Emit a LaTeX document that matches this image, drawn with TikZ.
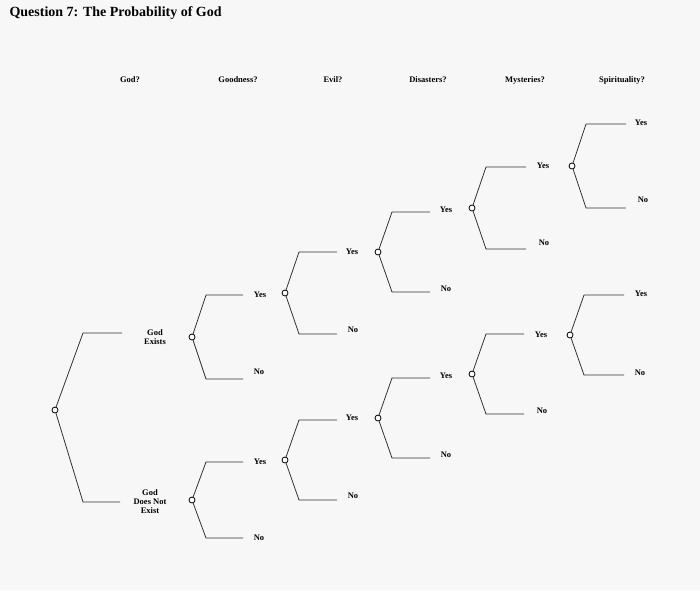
\documentclass[tikz,border=0pt]{standalone}
\usepackage{fontspec}
\setmainfont{Liberation Serif}
\tikzset{
  bp/.style={circle,draw,thick,inner sep=0pt,minimum size=6pt,fill=white},
  lab/.style={font=\bfseries\fontsize{8.5}{9}\selectfont,inner sep=1pt,align=center},
  hdr/.style={font=\bfseries\fontsize{8.5}{9}\selectfont},
  ln/.style={thick,black!80}
}
% #1 name, #2 cx, #3 cy, #4 dy, #5 line end x
\newcommand\brk[5]{%
  \coordinate (#1t) at (#2+14,#3-#4);
  \coordinate (#1b) at (#2+14,#3+#4);
  \coordinate (#1te) at (#5,#3-#4);
  \coordinate (#1be) at (#5,#3+#4);
  \draw[ln] (#1) -- (#1t) -- (#1te);
  \draw[ln] (#1) -- (#1b) -- (#1be);
}
\begin{document}
\begin{tikzpicture}[x=1pt,y=-1pt]
\fill[gray!6] (0,0) rectangle (700,590);
\useasboundingbox (0,0) rectangle (700,590);
\node[anchor=west,font=\bfseries\fontsize{14}{16}\selectfont] (title) at (6,13) {Question 7: The Probability of God};
\node[hdr] (h1) at (130,80) {God?};
\node[hdr] (h2) at (238,80) {Goodness?};
\node[hdr] (h3) at (333,80) {Evil?};
\node[hdr] (h4) at (428,80) {Disasters?};
\node[hdr] (h5) at (525,80) {Mysteries?};
\node[hdr] (h6) at (622,80) {Spirituality?};
% root
\node[bp] (r) at (55,410) {};
\coordinate (rt) at (83,333); \coordinate (rte) at (122,333);
\coordinate (rb) at (83,502); \coordinate (rbe) at (120,502);
\draw[ln] (r) -- (rt) -- (rte);
\draw[ln] (r) -- (rb) -- (rbe);
\node[lab] (lge) at (155,337) {God\\Exists};
\node[lab] (lgn) at (150,502) {God\\Does Not\\Exist};
% level 1
\node[bp] (a) at (192,337) {};
\node[bp] (b) at (192,500) {};
\brk{a}{192}{337}{42}{243}
\brk{b}{192}{500}{38}{243}
\node[lab] at (260,295) {Yes}; \node[lab] at (259,372) {No};
\node[lab] at (260,462) {Yes}; \node[lab] at (259,538) {No};
% level 2
\node[bp] (c) at (285,293) {};
\node[bp] (d) at (285,460) {};
\brk{c}{285}{293}{41}{337}
\brk{d}{285}{460}{40}{337}
\node[lab] at (352,252) {Yes}; \node[lab] at (353,330) {No};
\node[lab] at (352,418) {Yes}; \node[lab] at (353,496) {No};
% level 3
\node[bp] (e) at (378,252) {};
\node[bp] (f) at (378,418) {};
\brk{e}{378}{252}{40}{430}
\brk{f}{378}{418}{40}{430}
\node[lab] at (446,210) {Yes}; \node[lab] at (446,289) {No};
\node[lab] at (446,376) {Yes}; \node[lab] at (446,455) {No};
% level 4
\node[bp] (g) at (472,208) {};
\node[bp] (h) at (472,374) {};
\brk{g}{472}{208}{41}{526}
\brk{h}{472}{374}{40}{524}
\node[lab] at (543,166) {Yes}; \node[lab] at (544,243) {No};
\node[lab] at (541,335) {Yes}; \node[lab] at (542,411) {No};
% level 5
\node[bp] (i) at (572,166) {};
\node[bp] (j) at (570,335) {};
\brk{i}{572}{166}{42}{626}
\brk{j}{570}{335}{40}{624}
\node[lab] at (641,123) {Yes}; \node[lab] at (643,200) {No};
\node[lab] at (641,294) {Yes}; \node[lab] at (640,373) {No};
\end{tikzpicture}
\end{document}
